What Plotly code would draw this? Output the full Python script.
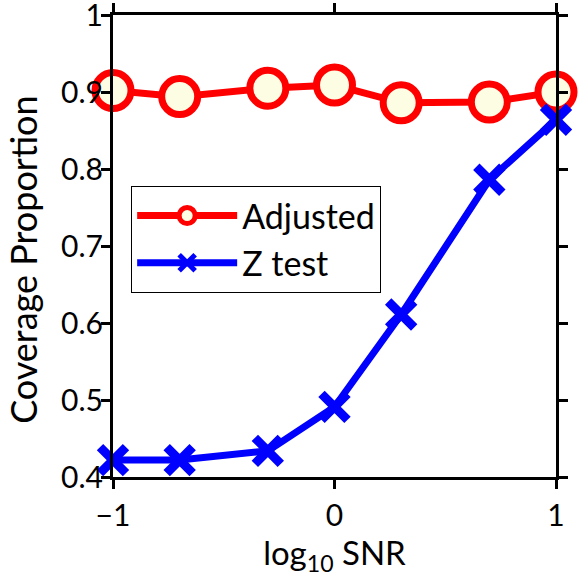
import numpy as np
import plotly.graph_objects as go

# SNR levels and coverage proportions
snr = [0.1, 0.2, 0.5, 1, 2, 5, 10]
adjusted = [0.902, 0.894, 0.905, 0.909, 0.886, 0.887, 0.900]
z_test = [0.422, 0.422, 0.434, 0.491, 0.611, 0.786, 0.864]

x = np.log10(snr)
font_name = "Lato"

fig = go.Figure()
fig.add_trace(go.Scatter(
    x=x, y=adjusted, name="Adjusted", mode="lines+markers",
    line=dict(color="#ff0000", width=7),
    marker=dict(symbol="circle", size=36, color="#fdfde3",
                line=dict(color="#ff0000", width=7)),
    cliponaxis=False))
fig.add_trace(go.Scatter(
    x=x, y=z_test, name="Z test", mode="lines+markers",
    line=dict(color="#0000ff", width=7),
    marker=dict(symbol="x-thin", size=26, color="#0000ff",
                line=dict(color="#0000ff", width=9)),
    cliponaxis=False))

axis_style = dict(showline=True, linecolor="black", linewidth=3, mirror="ticks",
                  ticks="outside", ticklen=9, tickwidth=3, tickcolor="black",
                  showgrid=False, zeroline=False, automargin=False,
                  ticklabeloverflow="allow",
                  tickfont=dict(family=font_name, size=30, color="black"))

fig.update_layout(
    width=578, height=585,
    margin=dict(l=113, r=22, t=15, b=108, autoexpand=False),
    plot_bgcolor="white", paper_bgcolor="white",
    font=dict(family=font_name, size=32, color="black"),
    xaxis=dict(range=[-1, 1], tickvals=[-1, 0, 1], ticklabelstandoff=1,
               title=dict(text="log<sub>10</sub> SNR", standoff=8,
                          font=dict(size=33)), **axis_style),
    yaxis=dict(range=[0.4, 1], tickvals=[0.4, 0.5, 0.6, 0.7, 0.8, 0.9, 1],
               ticktext=["0.4", "0.5", "0.6", "0.7", "0.8", "0.9", "1"],
               ticklabelstandoff=-8, **axis_style),
    legend=dict(x=0.041, y=0.63, xanchor="left", yanchor="top",
                bgcolor="white", bordercolor="black", borderwidth=1,
                font=dict(size=34), itemsizing="trace", itemwidth=100,
                tracegroupgap=0),
    showlegend=True)

# y title placed as a rotated annotation so it can sit close to the page edge
fig.add_annotation(text="Coverage Proportion", textangle=-90,
                   xref="paper", yref="paper", x=0, y=0.47,
                   xanchor="center", yanchor="middle", xshift=-90,
                   showarrow=False, font=dict(size=36))

# drop the browser's default body margin so the figure sits at the page corner
fig.write_html("out.html", config={"displayModeBar": False},
               post_script="document.body.style.margin='0';")
